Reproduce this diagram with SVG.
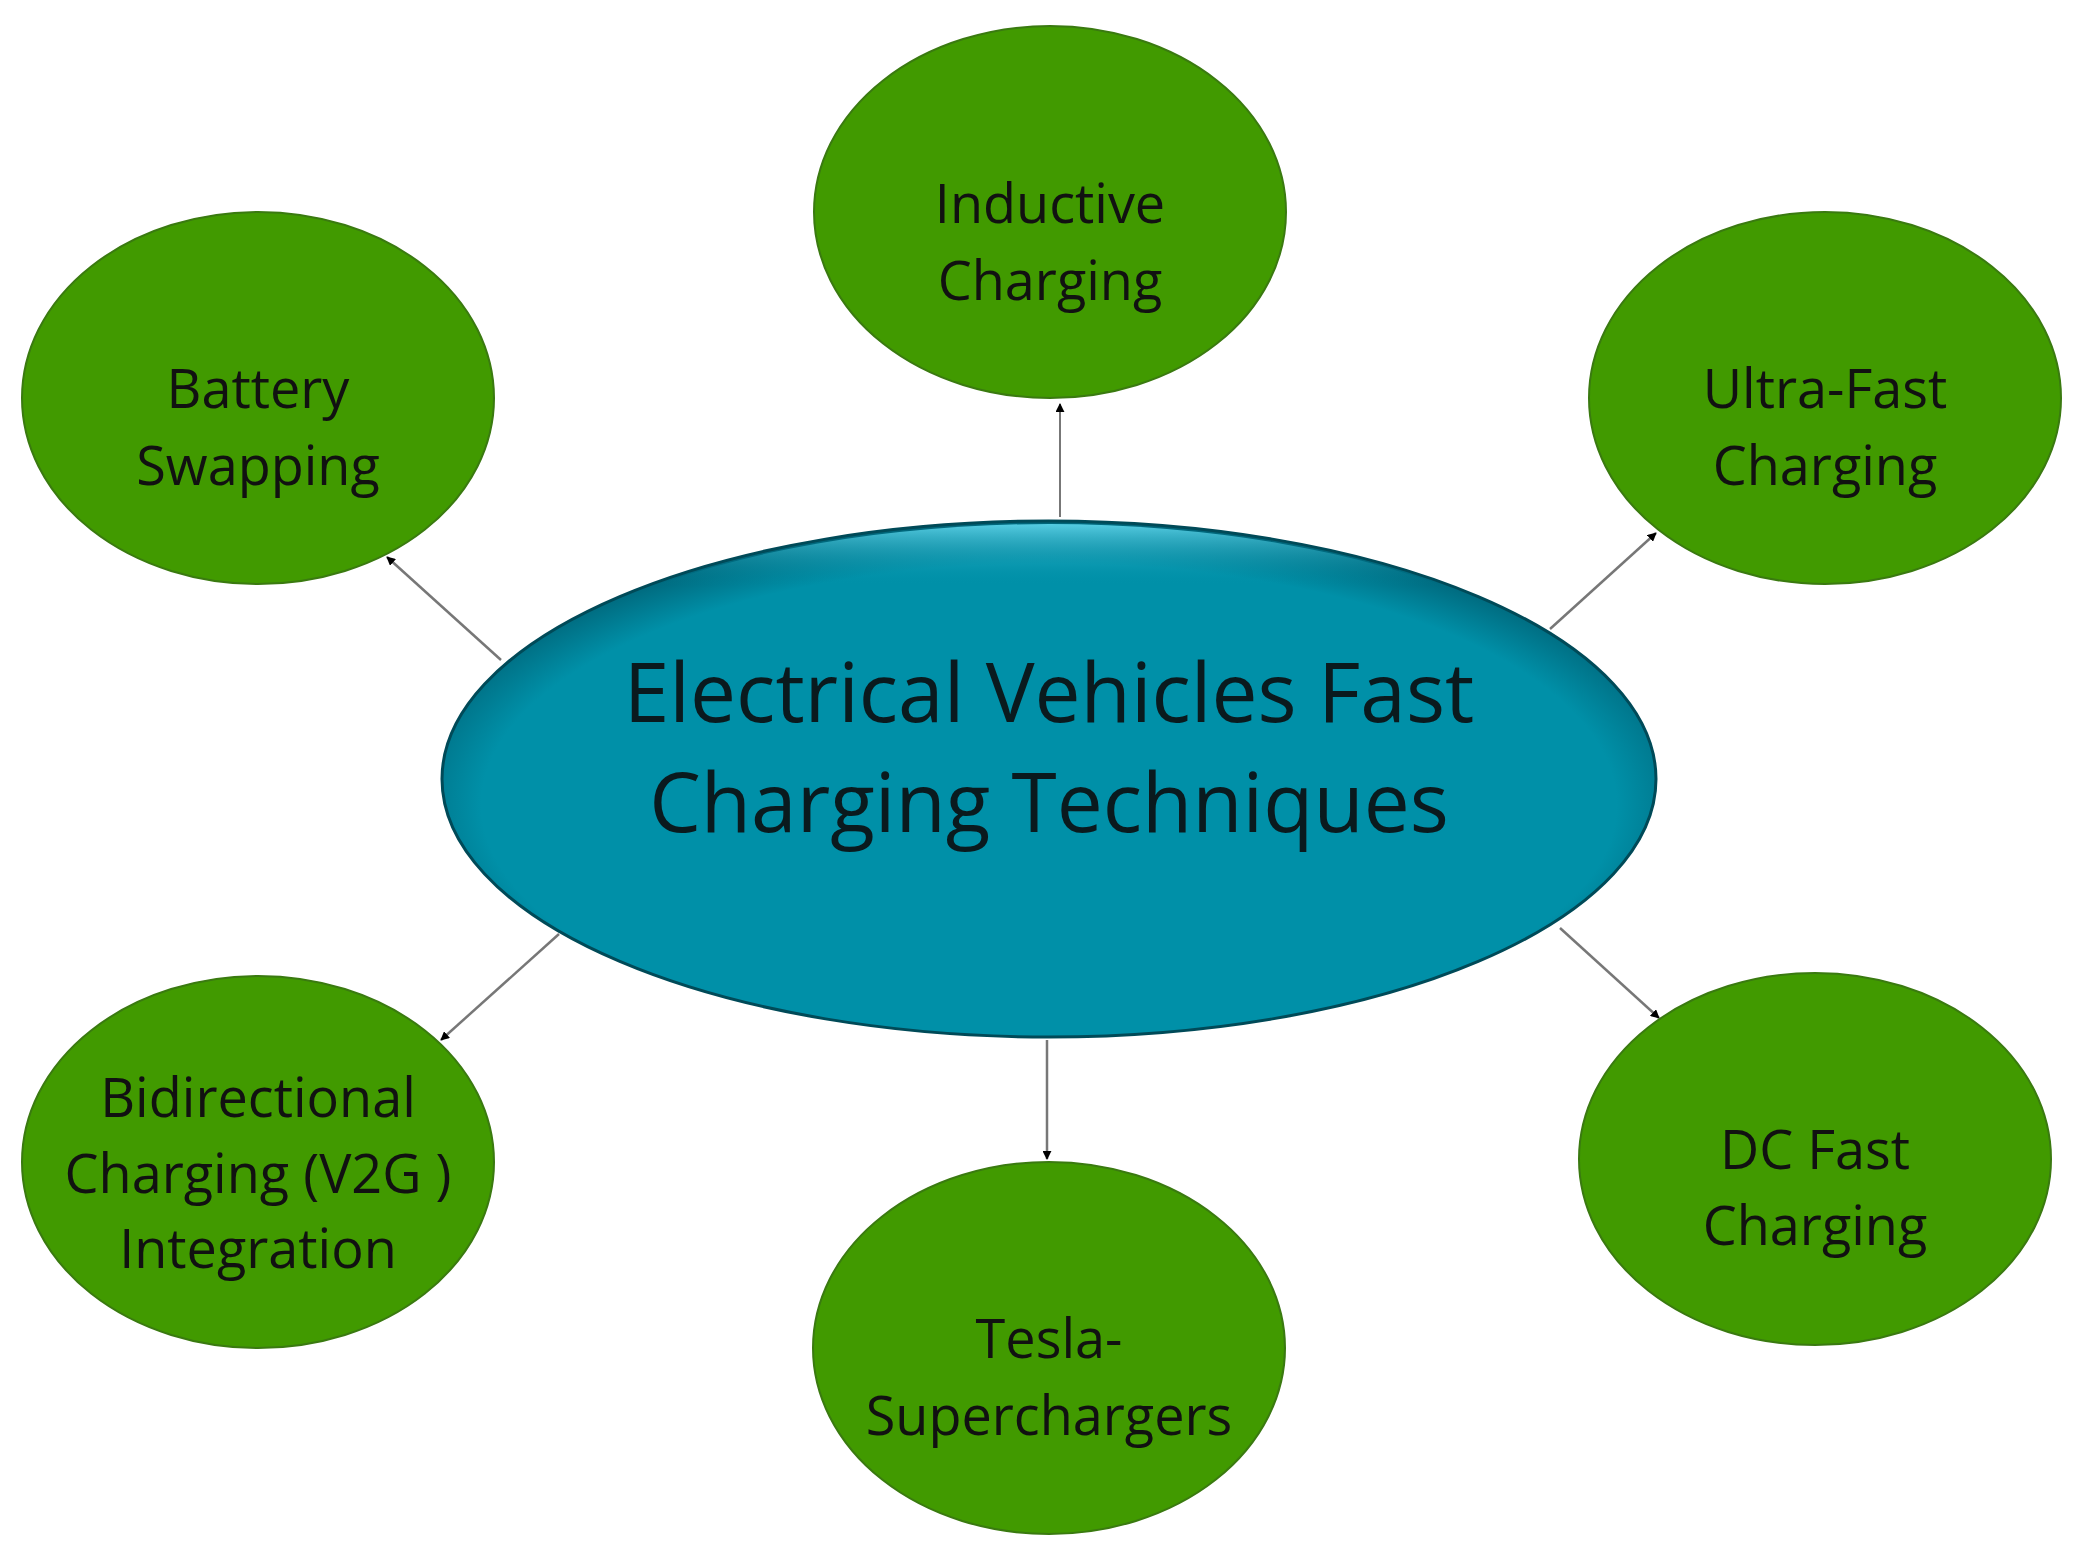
<svg xmlns="http://www.w3.org/2000/svg" width="2078" height="1563" viewBox="0 0 2078 1563">
<style>
.n{fill:#419A00;stroke:#3a7a10;stroke-width:2}
.t{font-family:"Open Sans","Liberation Sans",sans-serif;font-size:54px;fill:#111;text-anchor:middle}
.c{font-family:"Open Sans","Liberation Sans",sans-serif;font-size:82px;fill:#0a1a1e;text-anchor:middle}
.e{stroke:#777;stroke-width:2.5;fill:none;marker-end:url(#a)}
</style>
<defs>
<marker id="a" viewBox="0 0 10 10" refX="9" refY="5" markerWidth="9" markerHeight="9" markerUnits="userSpaceOnUse" orient="auto"><path d="M0,0L10,5L0,10z" fill="#000" transform="scale(1)"/></marker>
<radialGradient id="g" cx="0.5" cy="0.55" r="0.55">
<stop offset="0.85" stop-color="#0090A8"/><stop offset="1" stop-color="#006478"/></radialGradient>
<linearGradient id="h" x1="0" y1="0" x2="0" y2="1"><stop offset="0" stop-color="#5fd8ee" stop-opacity="0.9"/><stop offset="0.12" stop-color="#0090A8" stop-opacity="0"/></linearGradient>
</defs>
<rect width="2078" height="1563" fill="#fff"/>
<g id="connectors">
<line class="e" x1="1060" y1="517" x2="1060" y2="404" style="stroke-width:2;marker-end:none"/>
<line x1="1060" y1="517" x2="1060" y2="404" stroke="#777" stroke-width="2" marker-end="url(#a)"/>
<line class="e" x1="501" y1="660" x2="387" y2="557"/>
<line class="e" x1="1550" y1="629" x2="1656" y2="533"/>
<line class="e" x1="559" y1="934" x2="441" y2="1040"/>
<line class="e" x1="1047" y1="1040" x2="1047" y2="1159"/>
<line class="e" x1="1560" y1="928" x2="1659" y2="1018"/>
</g>
<g id="center">
<ellipse cx="1049" cy="779" rx="607" ry="258" fill="url(#g)" stroke="#004a58" stroke-width="3"/>
<ellipse cx="1049" cy="779" rx="604" ry="255" fill="url(#h)"/>
<text class="c" x="1049" y="722">Electrical Vehicles Fast</text>
<text class="c" x="1049" y="832">Charging Techniques</text>
</g>
<g id="inductive"><ellipse class="n" cx="1050" cy="212" rx="236" ry="186"/><text class="t" x="1050" y="223">Inductive</text><text class="t" x="1050" y="300">Charging</text></g>
<g id="battery"><ellipse class="n" cx="258" cy="398" rx="236" ry="186"/><text class="t" x="258" y="408">Battery</text><text class="t" x="258" y="485">Swapping</text></g>
<g id="ultrafast"><ellipse class="n" cx="1825" cy="398" rx="236" ry="186"/><text class="t" x="1825" y="408">Ultra-Fast</text><text class="t" x="1825" y="485">Charging</text></g>
<g id="bidirectional"><ellipse class="n" cx="258" cy="1162" rx="236" ry="186"/><text class="t" x="258" y="1117">Bidirectional</text><text class="t" x="258" y="1193">Charging (V2G )</text><text class="t" x="258" y="1268">Integration</text></g>
<g id="tesla"><ellipse class="n" cx="1049" cy="1348" rx="236" ry="186"/><text class="t" x="1049" y="1358">Tesla-</text><text class="t" x="1049" y="1435">Superchargers</text></g>
<g id="dcfast"><ellipse class="n" cx="1815" cy="1159" rx="236" ry="186"/><text class="t" x="1815" y="1169">DC Fast</text><text class="t" x="1815" y="1245">Charging</text></g>
</svg>
